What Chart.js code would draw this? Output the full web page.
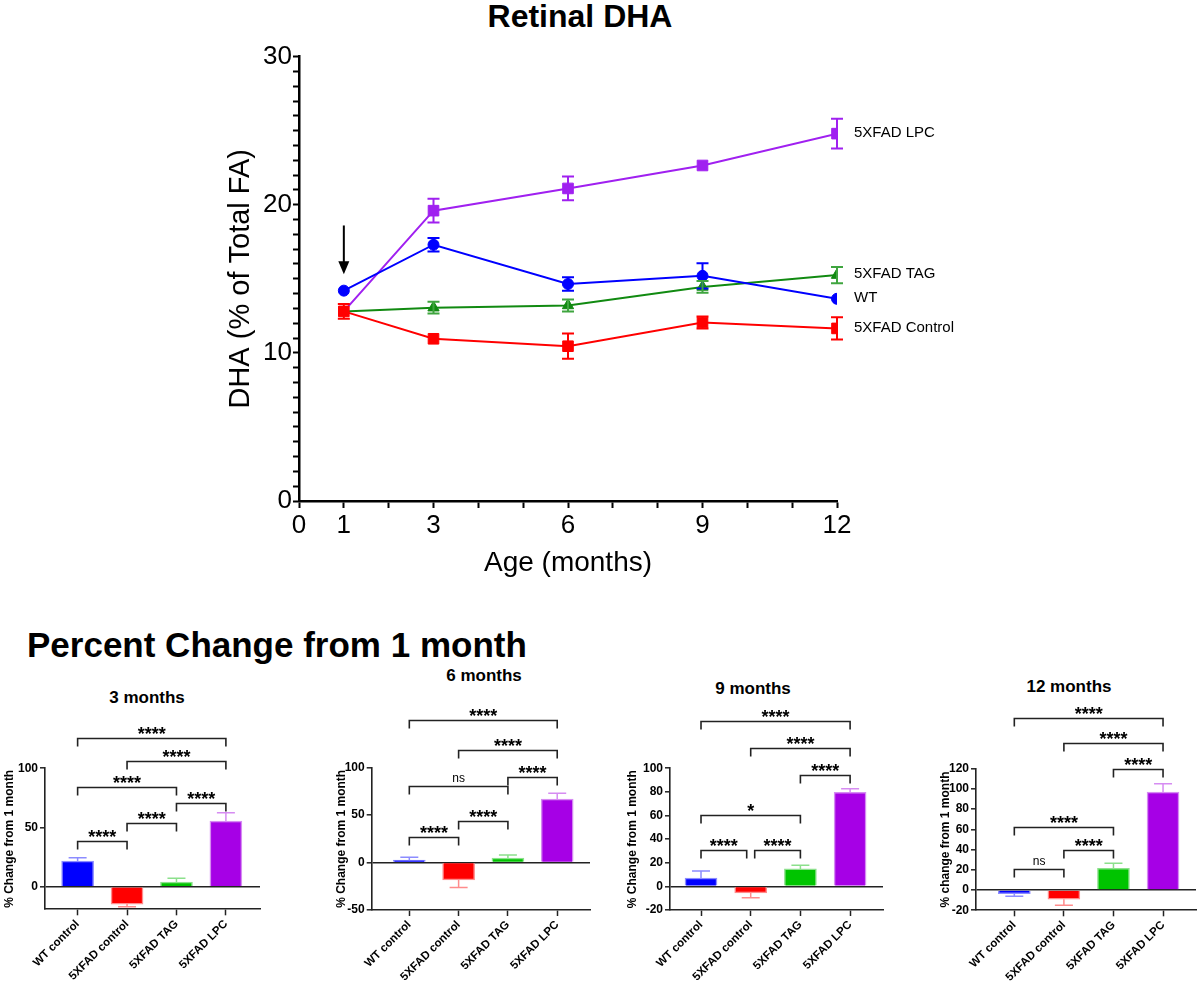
<!DOCTYPE html>
<html>
<head>
<meta charset="utf-8">
<title>Retinal DHA</title>
<script src="https://cdn.jsdelivr.net/npm/chart.js@4.4.1/dist/chart.umd.min.js"></script>
<style>
  html, body { margin: 0; padding: 0; background: #fff; }
  body { width: 1200px; height: 982px; position: relative; overflow: hidden; font-family: "Liberation Sans", Arial, sans-serif; }
  canvas { position: absolute; }
  .title { position: absolute; font-weight: bold; color: #000; white-space: nowrap; line-height: 1; }
  .centered { transform: translateX(-50%); }
</style>
</head>
<body>
<div class="title centered" style="left:580px; top:0px; font-size:32px;">Retinal DHA</div>
<div class="title" style="left:27px; top:627px; font-size:35px;">Percent Change from 1 month</div>
<div class="title centered" style="left:147px; top:689px; font-size:17px;">3 months</div>
<div class="title centered" style="left:484px; top:667px; font-size:17px;">6 months</div>
<div class="title centered" style="left:753px; top:680px; font-size:17px;">9 months</div>
<div class="title centered" style="left:1069px; top:678px; font-size:17px;">12 months</div>

<script>
Chart.defaults.font.family = '"Liberation Sans", Arial, sans-serif';
Chart.defaults.color = '#000';

// ---- Retinal DHA (% of total FA) ----
const ageMonths = [1, 3, 6, 9, 12];
const ageTickLabels = [0, 1, 3, 6, 9, 12];
const dhaTickLabels = [0, 10, 20, 30];

const wtDha = [14.2, 17.3, 14.65, 15.2, 13.65];
const wtDhaErr = [0.2, 0.45, 0.45, 0.85, 0.2];
const controlDha = [12.8, 10.95, 10.45, 12.05, 11.65];
const controlDhaErr = [0.5, 0.2, 0.85, 0.4, 0.75];
const tagDha = [12.8, 13.05, 13.2, 14.45, 15.25];
const tagDhaErr = [null, 0.4, 0.4, 0.4, 0.55];
const lpcDha = [12.8, 19.6, 21.1, 22.65, 24.8];
const lpcDhaErr = [null, 0.8, 0.8, 0.2, 1.0];

// diet start arrow (month, from, to)
const arrowMonth = 1;
const arrowFrom = 18.6;
const arrowTo = 15.3;

// ---- Percent change from 1 month ----
const groups = ['WT control', '5XFAD control', '5XFAD TAG', '5XFAD LPC'];

const change3Months = [21.7, -14.6, 4.0, 55.5];
const change3MonthsErr = [2.8, 2.3, 3.3, 7.0];
const range3Months = [-19, 100];
const ticks3Months = [0, 50, 100];
const brackets3Months = [[0, 1, '****', 38.6], [1, 2, '****', 54], [2, 3, '****', 71], [0, 2, '****', 84.5], [1, 3, '****', 106.4], [0, 3, '****', 125.3]];

const change6Months = [2.5, -18.2, 4.7, 66.8];
const change6MonthsErr = [3.2, 8.1, 3.2, 6.2];
const range6Months = [-50, 100];
const ticks6Months = [-50, 0, 50, 100];
const brackets6Months = [[0, 1, '****', 26.7], [1, 2, '****', 44.2], [0, 2, 'ns', 80.7], [2, 3, '****', 89.9], [1, 3, '****', 118.6], [0, 3, '****', 150]];

const change9Months = [7.0, -5.6, 14.8, 79.7];
const change9MonthsErr = [6.0, 4.0, 3.0, 3.0];
const range9Months = [-20, 100];
const ticks9Months = [-20, 0, 20, 40, 60, 80, 100];
const brackets9Months = [[0, 1, '****', 30.4], [1, 2, '****', 30.4], [0, 2, '*', 60.6], [2, 3, '****', 94.4], [1, 3, '****', 117], [0, 3, '****', 140.3]];

const change12Months = [-3.6, -9.0, 21.5, 97];
const change12MonthsErr = [2.6, 6.0, 5.0, 8.0];
const range12Months = [-20, 120];
const ticks12Months = [-20, 0, 20, 40, 60, 80, 100, 120];
const brackets12Months = [[0, 1, 'ns', 21], [1, 2, '****', 39.7], [0, 2, '****', 62.1], [2, 3, '****', 119.6], [1, 3, '****', 145.6], [0, 3, '****', 170.6]];

const lineColors = Object.freeze({
    WT: '#0000ff',
    CONTROL: '#ff0000',
    TAG: '#118a11',
    LPC: '#a020f0',
});

const barColors = ['#0000ff', '#ff0000', '#00c400', '#a600e6'];
const barEdgeColors = ['#8c8cff', '#ff8c8c', '#8ce08c', '#d68cf2'];

// red first so it is drawn on top of the shared 1 month point
const dhaSeries = [
    { label: '5XFAD Control', values: controlDha, errors: controlDhaErr, color: lineColors.CONTROL, marker: 'rect', radius: 7.5 },
    { label: 'WT', values: wtDha, errors: wtDhaErr, color: lineColors.WT, marker: 'circle', radius: 5.5 },
    { label: '5XFAD TAG', values: tagDha, errors: tagDhaErr, color: lineColors.TAG, errColor: '#3fa53f', marker: 'triangle', radius: 6.5, hideFirst: true },
    { label: '5XFAD LPC', values: lpcDha, errors: lpcDhaErr, color: lineColors.LPC, marker: 'rect', radius: 7.5, hideFirst: true },
];

const changePanels = [
    { yTitle: '% Change from 1 month', values: change3Months, errors: change3MonthsErr, yRange: range3Months, yTicks: ticks3Months, brackets: brackets3Months,
      box: { left: 0, top: 695, width: 290, height: 287 }, area: { left: 45, top: 768.3, right: 260, bottom: 909.3 }, xRange: [-0.66, 3.69], yTitleX: 10 },
    { yTitle: '% Change from 1 month', values: change6Months, errors: change6MonthsErr, yRange: range6Months, yTicks: ticks6Months, brackets: brackets6Months,
      box: { left: 300, top: 695, width: 300, height: 287 }, area: { left: 371.7, top: 767.7, right: 590, bottom: 910 }, xRange: [-0.763, 3.665], yTitleX: 42 },
    { yTitle: '% Change from 1 month', values: change9Months, errors: change9MonthsErr, yRange: range9Months, yTicks: ticks9Months, brackets: brackets9Months,
      box: { left: 600, top: 695, width: 300, height: 287 }, area: { left: 670, top: 768.3, right: 883, bottom: 910 }, xRange: [-0.624, 3.662], yTitleX: 33 },
    { yTitle: '% change from 1 month', values: change12Months, errors: change12MonthsErr, yRange: range12Months, yTicks: ticks12Months, brackets: brackets12Months,
      box: { left: 900, top: 695, width: 300, height: 287 }, area: { left: 976, top: 768.7, right: 1196, bottom: 910.3 }, xRange: [-0.773, 3.665], yTitleX: 46 },
];

renderDhaChart();
changePanels.forEach(panel => renderChangeChart(panel));

function createCanvas(box){
    const canvas = document.createElement('canvas');
    canvas.width = box.width;
    canvas.height = box.height;
    canvas.style.left = box.left + 'px';
    canvas.style.top = box.top + 'px';
    canvas.style.width = box.width + 'px';
    canvas.style.height = box.height + 'px';
    document.body.appendChild(canvas);
    return canvas;
}

// padding + axis sizes so the plot area lands where it should
function fitLayout(box, area){
    return {
        padding: { left: 0, top: area.top - box.top, right: box.left + box.width - area.right, bottom: 0 },
        yWidth: area.left - box.left,
        xHeight: box.top + box.height - area.bottom,
    };
}

function renderDhaChart(){
    const box = { left: 200, top: 40, width: 780, height: 560 };
    const area = { left: 299, top: 56, right: 837, bottom: 501 };
    const fit = fitLayout(box, area);
    const canvas = createCanvas(box);

    const datasets = dhaSeries.map(s => ({
        label: s.label,
        data: ageMonths.map((m, i) => ({ x: m, y: s.values[i] })),
        borderColor: s.color,
        backgroundColor: s.color,
        borderWidth: 2,
        tension: 0,
        pointStyle: s.marker,
        pointRadius: ctx => (s.hideFirst && ctx.dataIndex === 0) ? 0 : s.radius,
        pointBorderWidth: 1,
        pointBorderColor: s.color,
        pointBackgroundColor: s.color,
    }));

    const dhaDecor = {
        id: 'dhaDecor',
        afterDatasetsDraw(chart){
            const { ctx, scales: { x, y } } = chart;
            ctx.save();
            ctx.lineWidth = 2;
            dhaSeries.forEach(s => {
                ctx.strokeStyle = s.errColor || s.color;
                s.errors.forEach((err, i) => {
                    if(err == null) return;
                    const px = x.getPixelForValue(ageMonths[i]);
                    const top = y.getPixelForValue(s.values[i] + err);
                    const bottom = y.getPixelForValue(s.values[i] - err);
                    // Prism hides bars that stay inside the marker
                    if((bottom - top) / 2 < 5) return;
                    ctx.beginPath();
                    ctx.moveTo(px, top); ctx.lineTo(px, bottom);
                    ctx.moveTo(px - 6, top); ctx.lineTo(px + 6, top);
                    ctx.moveTo(px - 6, bottom); ctx.lineTo(px + 6, bottom);
                    ctx.stroke();
                });
            });
            ctx.restore();
        },
        afterDraw(chart){
            const { ctx, scales: { x, y } } = chart;
            ctx.save();
            // arrow
            const ax = x.getPixelForValue(arrowMonth);
            const ay1 = y.getPixelForValue(arrowFrom);
            const ay2 = y.getPixelForValue(arrowTo);
            ctx.strokeStyle = '#000';
            ctx.fillStyle = '#000';
            ctx.lineWidth = 2;
            ctx.beginPath();
            ctx.moveTo(ax, ay1); ctx.lineTo(ax, ay2 - 10);
            ctx.stroke();
            ctx.beginPath();
            ctx.moveTo(ax - 5.5, ay2 - 13);
            ctx.lineTo(ax + 5.5, ay2 - 13);
            ctx.lineTo(ax, ay2);
            ctx.closePath();
            ctx.fill();

            // series labels at the last point
            ctx.font = '15px "Liberation Sans", Arial, sans-serif';
            ctx.textAlign = 'left';
            ctx.textBaseline = 'middle';
            const last = ageMonths.length - 1;
            dhaSeries.forEach(s => {
                const px = x.getPixelForValue(ageMonths[last]) + 17;
                const py = y.getPixelForValue(s.values[last]) - 1;
                ctx.fillText(s.label, px, py);
            });
            ctx.restore();
        }
    };

    new Chart(canvas, {
        type: 'line',
        data: { datasets: datasets },
        options: {
            responsive: false,
            animation: false,
            events: [],
            layout: { padding: fit.padding },
            plugins: { legend: { display: false }, tooltip: { enabled: false } },
            scales: {
                x: {
                    type: 'linear',
                    min: 0,
                    max: 12,
                    afterFit: scale => { scale.height = fit.xHeight; },
                    ticks: {
                        stepSize: 1,
                        autoSkip: false,
                        maxRotation: 0,
                        padding: 2,
                        font: { size: 26 },
                        callback: value => ageTickLabels.includes(value) ? String(value) : '',
                    },
                    grid: { drawOnChartArea: false, drawTicks: true, tickLength: 7, tickWidth: 2, tickColor: '#000' },
                    border: { color: '#000', width: 2.5 },
                    title: { display: true, text: 'Age (months)', font: { size: 28 }, padding: { top: 0, bottom: 20 } },
                },
                y: {
                    min: 0,
                    max: 30,
                    afterFit: scale => { scale.width = fit.yWidth; },
                    ticks: {
                        stepSize: 1,
                        autoSkip: false,
                        padding: 1,
                        font: { size: 26 },
                        callback: value => dhaTickLabels.includes(value) ? String(value) : '',
                    },
                    grid: { drawOnChartArea: false, drawTicks: true, tickLength: 6, tickWidth: 2, tickColor: '#000' },
                    border: { color: '#000', width: 2.5 },
                    title: { display: true, text: 'DHA (% of Total FA)', font: { size: 29 }, padding: { top: 24, bottom: 0 } },
                },
            },
        },
        plugins: [dhaDecor],
    });
}

function renderChangeChart(panel){
    const fit = fitLayout(panel.box, panel.area);
    const canvas = createCanvas(panel.box);
    const titleLine = 12 * 1.2;

    const changeDecor = {
        id: 'changeDecor',
        afterDatasetsDraw(chart){
            const { ctx, scales: { x, y } } = chart;
            ctx.save();
            ctx.lineWidth = 1.5;
            panel.values.forEach((v, i) => {
                const sign = v < 0 ? -1 : 1;
                const px = x.getPixelForValue(i);
                const from = y.getPixelForValue(v);
                const to = y.getPixelForValue(v + sign * panel.errors[i]);
                ctx.strokeStyle = barEdgeColors[i];
                ctx.beginPath();
                ctx.moveTo(px, from); ctx.lineTo(px, to);
                ctx.moveTo(px - 9, to); ctx.lineTo(px + 9, to);
                ctx.stroke();
            });
            ctx.restore();
        },
        afterDraw(chart){
            const { ctx, scales: { x, y } } = chart;
            ctx.save();
            ctx.strokeStyle = '#222';
            ctx.fillStyle = '#000';
            ctx.lineWidth = 1.6;
            ctx.textAlign = 'center';
            ctx.textBaseline = 'alphabetic';
            panel.brackets.forEach((b, idx) => {
                const [from, to, label, level] = b;
                const touchLeft = panel.brackets.some((o, j) => j !== idx && o[3] === level && o[1] === from);
                const touchRight = panel.brackets.some((o, j) => j !== idx && o[3] === level && o[0] === to);
                const x1 = x.getPixelForValue(from) + (touchLeft ? 4 : 0);
                const x2 = x.getPixelForValue(to) - (touchRight ? 4 : 0);
                const py = Math.round(y.getPixelForValue(level)) + 0.5;
                ctx.beginPath();
                ctx.moveTo(x1, py + 8); ctx.lineTo(x1, py); ctx.lineTo(x2, py); ctx.lineTo(x2, py + 8);
                ctx.stroke();
                if(label === 'ns'){
                    ctx.font = '12px "Liberation Sans", Arial, sans-serif';
                    ctx.fillText(label, (x1 + x2) / 2, py - 5);
                } else {
                    ctx.font = 'bold 18px "Liberation Sans", Arial, sans-serif';
                    ctx.fillText(label, (x1 + x2) / 2, py + 1);
                }
            });
            ctx.restore();
        }
    };

    new Chart(canvas, {
        type: 'bar',
        data: {
            datasets: [{
                data: panel.values.map((v, i) => ({ x: i, y: v })),
                backgroundColor: barColors,
                borderColor: barEdgeColors,
                borderWidth: 1.5,
                barThickness: 32,
            }]
        },
        options: {
            responsive: false,
            animation: false,
            events: [],
            layout: { padding: fit.padding },
            plugins: { legend: { display: false }, tooltip: { enabled: false } },
            scales: {
                x: {
                    type: 'linear',
                    offset: false,
                    min: panel.xRange[0],
                    max: panel.xRange[1],
                    afterBuildTicks: scale => { scale.ticks = groups.map((g, i) => ({ value: i })); },
                    afterFit: scale => { scale.height = fit.xHeight; },
                    ticks: {
                        autoSkip: false,
                        minRotation: 45,
                        maxRotation: 45,
                        padding: 2,
                        font: { size: 11.5, weight: 'bold' },
                        callback: value => groups[value],
                    },
                    grid: { offset: false, drawOnChartArea: false, drawTicks: true, tickLength: 6, tickWidth: 1.5, tickColor: '#222' },
                    border: { color: '#222', width: 1.6 },
                },
                y: {
                    min: panel.yRange[0],
                    max: panel.yRange[1],
                    afterBuildTicks: scale => { scale.ticks = panel.yTicks.map(v => ({ value: v })); },
                    afterFit: scale => { scale.width = fit.yWidth; },
                    ticks: {
                        padding: 2,
                        font: { size: 12, weight: 'bold' },
                        callback: value => String(value),
                    },
                    grid: {
                        drawOnChartArea: true,
                        drawTicks: true,
                        tickLength: 5,
                        lineWidth: 1.6,
                        tickWidth: 1.5,
                        tickColor: '#222',
                        color: ctx => (ctx.tick && ctx.tick.value === 0) ? '#222' : 'rgba(0,0,0,0)',
                    },
                    border: { color: '#222', width: 1.6 },
                    title: {
                        display: true,
                        text: panel.yTitle,
                        font: { size: 12, weight: 'bold' },
                        padding: { top: panel.yTitleX - titleLine / 2, bottom: 0 },
                    },
                },
            },
        },
        plugins: [changeDecor],
    });
}
</script>
</body>
</html>
